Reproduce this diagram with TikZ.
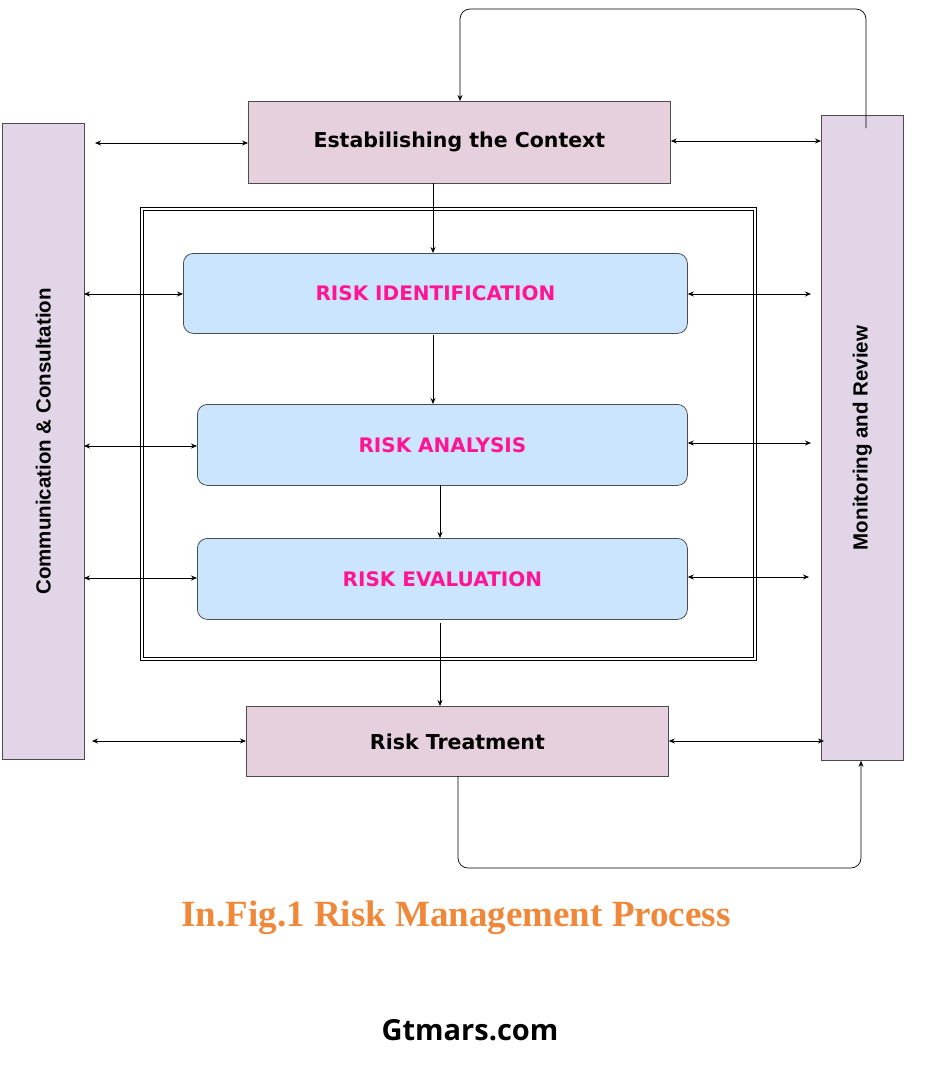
\documentclass[tikz,border=0pt]{standalone}
\usepackage{fontspec}
\setmainfont{Liberation Sans}
\newfontfamily\capfont{Liberation Serif}
\newfontfamily\boxfont{DejaVu Sans}
\newfontfamily\sitefont{Open Sans}
\usetikzlibrary{arrows.meta}
\definecolor{barfill}{HTML}{E1D5E7}
\definecolor{ctxfill}{HTML}{E6D0DE}
\definecolor{bluefill}{HTML}{CCE5FF}
\definecolor{magtext}{HTML}{FF1493}
\definecolor{orangetext}{HTML}{F0883A}
\begin{document}
\begin{tikzpicture}[x=1pt,y=-1pt,
  bar/.style={draw=black!70,fill=barfill,line width=0.8pt},
  bartext/.style={rotate=90,font=\bfseries\fontsize{20.5}{24}\selectfont},
  ctx/.style={draw=black!70,fill=ctxfill,line width=0.8pt,font=\boxfont\bfseries\fontsize{20.5}{24}\selectfont},
  risk/.style={draw=black!70,fill=bluefill,rounded corners=10pt,line width=0.8pt,font=\boxfont\bfseries\fontsize{20}{24}\selectfont,text=magtext},
  arr/.style={-{Stealth[length=6pt,width=5pt]},line width=0.7pt},
  darr/.style={{Stealth[length=6pt,width=5pt]}-{Stealth[length=6pt,width=5pt]},line width=0.7pt}]
\useasboundingbox[fill=white] (0,0) rectangle (930,1077);
% bars
\node[bar,minimum width=82pt,minimum height=636pt,anchor=north west] (L) at (2,123) {};
\node[bartext] (Lt) at (L.center) {Communication \& Consultation};
\node[bar,minimum width=82pt,minimum height=645pt,anchor=north west] (R) at (821,115) {};
\node[bartext] (Rt) at (R.center) {Monitoring and Review};
% frame
\draw[line width=0.7pt] (140,207) rectangle (756,660);
\draw[line width=0.7pt] (143,210) rectangle (753,657);
% boxes
\node[ctx,minimum width=422pt,minimum height=82pt,anchor=north west] (C) at (248,101) {Estabilishing the Context};
\node[risk,minimum width=504pt,minimum height=80pt,anchor=north west] (I) at (183,253) {RISK IDENTIFICATION};
\node[risk,minimum width=490pt,minimum height=81pt,anchor=north west] (A) at (197,404) {RISK ANALYSIS};
\node[risk,minimum width=490pt,minimum height=81pt,anchor=north west] (E) at (197,538) {RISK EVALUATION};
\node[ctx,minimum width=422pt,minimum height=70pt,anchor=north west] (T) at (246,706) {Risk Treatment};
% coordinates
\coordinate (l1) at (95,143); \coordinate (l2) at (84,294); \coordinate (l3) at (84,446);
\coordinate (l4) at (84,578); \coordinate (l5) at (92,741);
\coordinate (r1) at (821,141); \coordinate (r2) at (811,294); \coordinate (r3) at (811,443);
\coordinate (r4) at (809,577); \coordinate (r5) at (824,741);
\draw[darr] (l1) -- (C.west|-l1);
\draw[darr] (l2) -- (I.west|-l2);
\draw[darr] (l3) -- (A.west|-l3);
\draw[darr] (l4) -- (E.west|-l4);
\draw[darr] (l5) -- (T.west|-l5);
\draw[darr] (C.east|-r1) -- (r1);
\draw[darr] (I.east|-r2) -- (r2);
\draw[darr] (A.east|-r3) -- (r3);
\draw[darr] (E.east|-r4) -- (r4);
\draw[darr] (T.east|-r5) -- (r5);
% flow
\coordinate (f1) at (433,183); \coordinate (f2) at (433,335);
\coordinate (f3) at (440,485); \coordinate (f4) at (440,623);
\draw[arr] (f1) -- (f1|-I.north);
\draw[arr] (f2) -- (f2|-A.north);
\draw[arr] (f3) -- (f3|-E.north);
\draw[arr] (f4) -- (f4|-T.north);
% loops
\coordinate (tl) at (866,128);
\coordinate (tt) at (460,9);
\coordinate (bl) at (458,776);
\coordinate (bb) at (861,868);
\draw[arr,rounded corners=10pt] (tl) |- (tt) -- (tt|-C.north);
\draw[arr,rounded corners=10pt] (bl) |- (bb) -- (bb|-R.south);
% captions
\node[font=\capfont\bfseries\fontsize{37}{42}\selectfont,text=orangetext] (cap) at (456,918) {In.Fig.1 Risk Management Process};
\node[font=\sitefont\bfseries\fontsize{29}{34}\selectfont] (site) at (470,1030) {Gtmars.com};
\end{tikzpicture}
\end{document}
